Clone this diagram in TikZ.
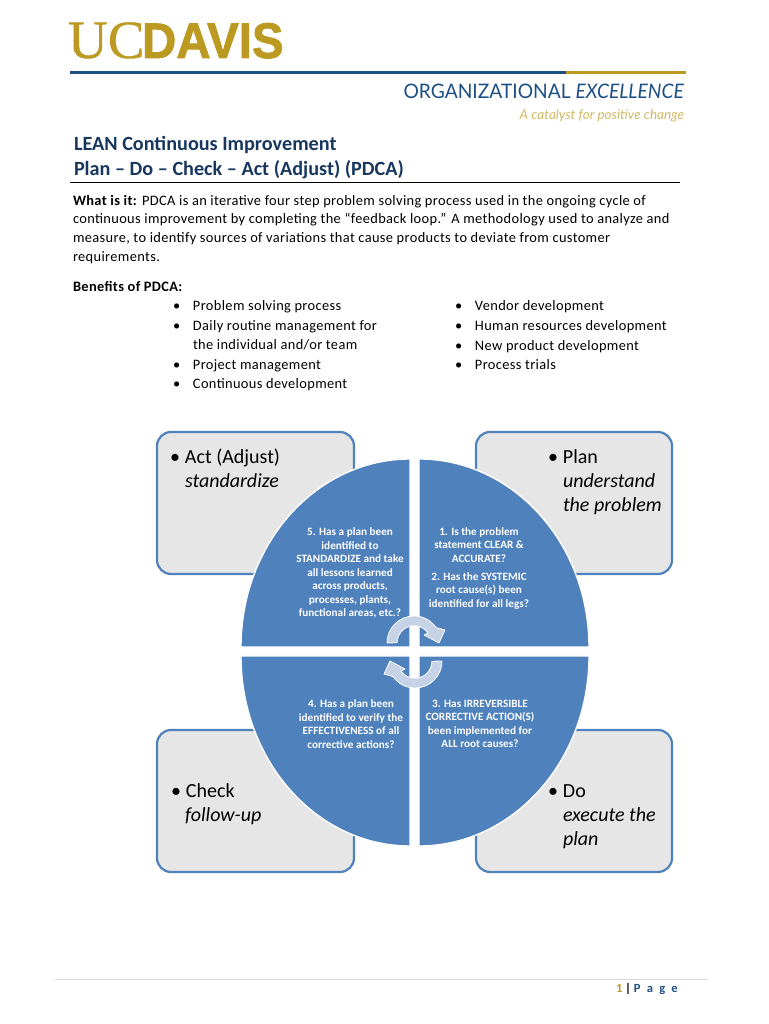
\documentclass[tikz,border=0pt]{standalone}
\usepackage{fontspec}
\setmainfont{Carlito}
\newfontfamily\bodyfont[LetterSpace=2.5]{Carlito}
\newfontfamily\logoserif[FakeBold=0.6]{Liberation Serif}
\newfontfamily\logosans[FakeBold=1.6]{Liberation Sans Bold}
\newfontfamily\bannerfont{Lato}
\usepackage{tikz}
\usetikzlibrary{positioning}
\definecolor{UDGold}{HTML}{BC9A22}
\definecolor{UDNavy}{HTML}{17375E}
\definecolor{UDRule}{HTML}{1B4F85}
\definecolor{QuadBlue}{HTML}{4F81BD}
\definecolor{BoxGrey}{HTML}{E6E6E6}
\definecolor{TurnBlue}{HTML}{C6D3E7}
\newcommand{\bul}{\makebox[20pt][l]{•}}
\newcommand{\boxbul}{\makebox[15pt][l]{•}}

\begin{document}
\begin{tikzpicture}[
      x=1pt,y=1pt,
      every node/.style={inner sep=0pt,outer sep=0pt},
      pdcabox/.style={draw=QuadBlue,fill=BoxGrey,rounded corners=14pt,line width=2.2pt},
      quad/.style={fill=QuadBlue,draw=white,line width=1.4pt},
      quadtext/.style={align=center,text=white,font=\fontsize{11.2}{13.5}\selectfont\bfseries},
      boxtext/.style={anchor=base west,align=left,font=\fontsize{20}{24}\selectfont},
      boxsub/.style={anchor=base west,align=left,font=\fontsize{20}{24}\selectfont\itshape},
      title/.style={anchor=base west,text=UDNavy,font=\fontsize{20.2}{24}\selectfont\bfseries},
      listitem/.style={anchor=base west,font=\bodyfont\fontsize{14.4}{16}\selectfont},
      turn/.style={fill=TurnBlue,draw=white,line width=0.8pt,line join=round}
    ]
      \useasboundingbox (0,0) rectangle (768,1024);
      % header
      \node[anchor=base west,text=UDGold,font=\logoserif\fontsize{54}{54}\selectfont,xscale=1.02] (uc) at (68,966) {UC};
      \node[anchor=base west,text=UDGold,font=\logosans\fontsize{50}{50}\selectfont,xscale=0.95] (davis) at (142,966) {DAVIS};
      \fill[UDRule] (70,949.5) rectangle (566,952.5);
      \fill[UDGold] (566,949.5) rectangle (686,952.5);
      \node[anchor=base east,text=UDRule,font=\bannerfont\fontsize{20}{24}\selectfont,xscale=0.96] (org) at (684,925) {ORGANIZATIONAL \textit{EXCELLENCE}};
      \node[anchor=base east,text=UDGold!70,font=\bannerfont\itshape\fontsize{13.5}{16}\selectfont] (tag) at (684,904) {A catalyst for positive change};
      \node[title] (lean) at (74,873) {LEAN Continuous Improvement};
      \node[title] (plando) at (74,848) {Plan – Do – Check – Act (Adjust) (PDCA)};
      \draw[line width=0.9pt] (70,842) -- (680,842);
      % intro
      \node[anchor=north west,align=left,font=\bodyfont\fontsize{14.4}{18.9}\selectfont] (intro) at (73,829) {\textbf{What is it:} PDCA is an iterative four step problem solving process used in the ongoing cycle of\\
        continuous improvement by completing the “feedback loop.” A methodology used to analyze and\\
        measure, to identify sources of variations that cause products to deviate from customer\\
        requirements.};
      \node[listitem,font=\bodyfont\fontsize{14.4}{16}\selectfont\bfseries] (benefits) at (73,732) {Benefits of PDCA:};
      \foreach \n/\y/\t in {a/713/{\bul Problem solving process},b/693/{\bul Daily routine management for},d/654/{\bul Project management},e/635/{\bul Continuous development}}
        \node[listitem] (left\n) at (173,\y) {\t};
      \node[listitem] (leftcont) at (193,674) {the individual and/or team};
      \foreach \n/\y/\t in {a/713/{\bul Vendor development},b/693/{\bul Human resources development},c/673/{\bul New product development},d/654/{\bul Process trials}}
        \node[listitem] (right\n) at (455,\y) {\t};
      % outer boxes
      \draw[pdcabox] (157,450) rectangle (354,592);
      \draw[pdcabox] (476,450) rectangle (672,592);
      \draw[pdcabox] (157,152) rectangle (354,294);
      \draw[pdcabox] (476,152) rectangle (672,294);
      \node[boxtext] (act) at (170,560) {\boxbul Act (Adjust)};
      \node[boxsub] (actsub) at (185,536) {standardize};
      \node[boxtext] (plan) at (548,560) {\boxbul Plan};
      \node[boxsub] (plansub) at (563,536) {understand};
      \node[boxsub] (plansubb) at (563,512) {the problem};
      \node[boxtext] (check) at (171,226) {\boxbul Check};
      \node[boxsub] (checksub) at (185,202) {follow-up};
      \node[boxtext] (do) at (548,226) {\boxbul Do};
      \node[boxsub] (dosub) at (563,202) {execute the};
      \node[boxsub] (dosubb) at (563,178) {plan};
      % quadrants
      \draw[quad] (410,377) -- (241,377) arc[start angle=180,end angle=90,x radius=169pt,y radius=188pt] -- cycle;
      \draw[quad] (419,377) -- (419,565) arc[start angle=90,end angle=0,x radius=170pt,y radius=188pt] -- cycle;
      \draw[quad] (410,368) -- (410,178) arc[start angle=270,end angle=180,x radius=169pt,y radius=190pt] -- cycle;
      \draw[quad] (419,368) -- (589,368) arc[start angle=0,end angle=-90,x radius=170pt,y radius=190pt] -- cycle;
      \node[quadtext] (qact) at (350,451) {5. Has a plan been\\identified to\\STANDARDIZE and take\\all lessons learned\\across products,\\processes, plants,\\functional areas, etc.?};
      \node[quadtext] (qplana) at (479,479) {1. Is the problem\\statement CLEAR \&\\ACCURATE?};
      \node[quadtext] (qplanb) at (479,433) {2. Has the SYSTEMIC\\root cause(s) been\\identified for all legs?};
      \node[quadtext] (qcheck) at (351,300) {4. Has a plan been\\identified to verify the\\EFFECTIVENESS of all\\corrective actions?};
      \node[quadtext] (qdo) at (480,300) {3. Has IRREVERSIBLE\\CORRECTIVE ACTION(S)\\been implemented for\\ALL root causes?};
      % turning arrows
      \foreach \a in {0,180}
        \draw[turn,rotate around={\a:(414.5,372)}] (387,381) arc[start angle=180,end angle=35,radius=27pt] -- (445,394) -- (439,381) -- (424,389) -- (428,391) arc[start angle=35,end angle=180,radius=17pt] -- cycle;
      % footer
      \draw[black!15,line width=0.8pt] (55,45) -- (708,45);
      \node[anchor=base west,font=\fontsize{12.5}{14}\selectfont\bfseries] (pagenum) at (616,31) {\textcolor{UDGold}{1} | \textcolor{UDRule}{P\,\,\,a\,\,\,g\,\,\,e}};
    \end{tikzpicture}
\end{document}
